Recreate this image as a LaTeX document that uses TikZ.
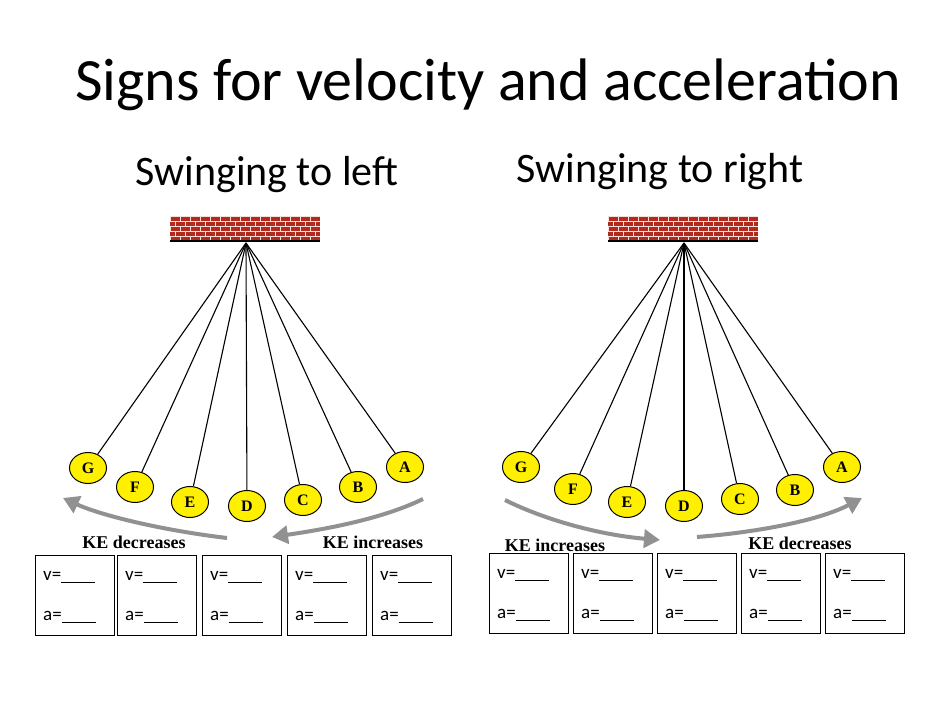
\documentclass[tikz,border=0pt]{standalone}
\usepackage{fontspec}
\setmainfont{Carlito}
\newfontfamily\serifb{Liberation Serif}
\usetikzlibrary{arrows.meta,shapes.geometric}
\definecolor{brick}{RGB}{178,42,30}
\definecolor{ballY}{RGB}{255,240,0}
\definecolor{arr}{RGB}{145,145,145}
\tikzset{
  ball/.style={ellipse,draw=black,line width=1pt,fill=ballY,minimum width=37pt,minimum height=31pt,inner sep=0pt,font=\serifb\bfseries\fontsize{16}{16}\selectfont},
  str/.style={line width=1.1pt,black},
  box/.style={draw=black,line width=0.7pt,minimum width=79pt,minimum height=80pt,inner sep=0pt},
  vt/.style={font=\fontsize{19}{19}\selectfont,anchor=west,inner sep=0pt},
  ke/.style={font=\serifb\bfseries\fontsize{18}{18}\selectfont},
  garr/.style={arr,line width=4pt,-{Triangle[length=16pt,width=18pt]}}
}
\begin{document}
\begin{tikzpicture}[x=1pt,y=-1pt]
\useasboundingbox (0,0) rectangle (938,703);
\node[font=\fontsize{60}{60}\selectfont] (title) at (488,85) {Signs for velocity and acceleration};
\node[font=\fontsize{42}{42}\selectfont] (sl) at (267,175) {Swinging to left};
\node[font=\fontsize{42}{42}\selectfont] (sr) at (660,172) {Swinging to right};
% walls
\foreach \wx/\nm in {170/wl,608/wr}{
  \fill[brick] (\wx,216) rectangle ++(150,24);
  \foreach \r in {0,...,4}{
    \draw[white!85!brick,line width=0.8pt] (\wx,216+\r*5) -- ++(150,0);
    \pgfmathsetmacro\off{mod(\r,2)*5}
    \foreach \c in {0,10,...,140}{
      \draw[white!85!brick,line width=0.8pt] (\wx+\c+\off,216+\r*5) -- ++(0,5);
    }
  }
  \draw[black,line width=2.5pt] (\wx,241) -- ++(150,0);
  \coordinate (\nm) at (\wx+76,243);
}
% left pendulum
\foreach \n/\x/\y in {G/88/468,F/135/487,E/190/502,D/247/506,C/303/500,B/358/487,A/405/467}{
  \node[ball] (L\n) at (\x,\y) {\n};
  \draw[str] (wl) -- (L\n);
}
% right pendulum
\foreach \n/\x/\y in {G/521/467,F/573/489,E/627/502,D/684/506,C/740/499,B/795/490,A/842/467}{
  \node[ball] (R\n) at (\x,\y) {\n};
  \draw[str] (wr) -- (R\n);
}
% arrows
\coordinate (la1) at (227,538); \coordinate (la2) at (63,498);
\coordinate (la3) at (423,499); \coordinate (la4) at (272,537);
\coordinate (ra1) at (505,500); \coordinate (ra2) at (660,540);
\coordinate (ra3) at (697,537); \coordinate (ra4) at (862,498);
\draw[garr] (la1) .. controls (160,530) and (100,515) .. (la2);
\draw[garr] (la3) .. controls (380,520) and (320,530) .. (la4);
\draw[garr] (ra1) .. controls (545,520) and (600,535) .. (ra2);
\draw[garr] (ra3) .. controls (760,532) and (820,520) .. (ra4);
\node[ke] (kl1) at (134,542) {KE decreases};
\node[ke] (kl2) at (373,542) {KE increases};
\node[ke] (kr1) at (555,545) {KE increases};
\node[ke] (kr2) at (800,543) {KE decreases};
% boxes
\foreach \i/\x in {1/35,2/117,3/202,4/287,5/372}{
  \node[box,anchor=north west] (bl\i) at (\x,555) {};
  \node[vt] (blv\i) at ([xshift=8pt,yshift=-22pt]bl\i.north west) {v=\underline{\hspace{34pt}}};
  \node[vt] (bla\i) at ([xshift=8pt,yshift=-62pt]bl\i.north west) {a=\underline{\hspace{34pt}}};
}
\foreach \i/\x in {1/489,2/573,3/657,4/741,5/825}{
  \node[box,anchor=north west] (br\i) at (\x,553) {};
  \node[vt] (brv\i) at ([xshift=8pt,yshift=-22pt]br\i.north west) {v=\underline{\hspace{34pt}}};
  \node[vt] (bra\i) at ([xshift=8pt,yshift=-62pt]br\i.north west) {a=\underline{\hspace{34pt}}};
}
\end{tikzpicture}
\end{document}
